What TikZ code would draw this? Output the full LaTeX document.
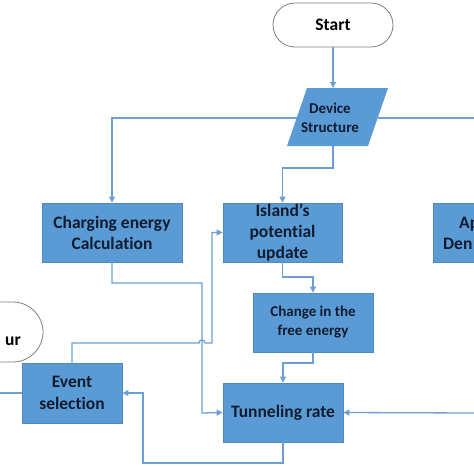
\documentclass[tikz,border=0pt]{standalone}
\usepackage{fontspec}
\setmainfont[Ligatures=NoCommon]{Carlito}
\usetikzlibrary{arrows.meta}
\definecolor{boxfill}{HTML}{5B9BD5}
\definecolor{boxline}{HTML}{4F89C2}
\definecolor{conn}{HTML}{6C9FD3}
\definecolor{txt}{HTML}{0F1C30}
\definecolor{ovalline}{HTML}{7F7F7F}
\tikzset{
  procbox/.style={rectangle, fill=boxfill, draw=boxline, line width=0.8pt, text=txt,
    font=\bfseries\fontsize{17.5}{21}\selectfont, align=center, inner sep=0pt},
  termbox/.style={rectangle, rounded corners=22pt, fill=white, draw=ovalline, line width=0.8pt,
    font=\bfseries\fontsize{17.5}{21}\selectfont, text=black, inner sep=0pt},
  wire/.style={draw=conn, line width=1.3pt},
  arr/.style={wire, -{Triangle[length=6pt,width=6pt]}},
}
\begin{document}
\begin{tikzpicture}[x=1pt,y=-1pt]
\useasboundingbox (0,0) rectangle (474,474);
\clip (0,0) rectangle (474,474);
% terminators
\node[termbox, minimum width=120pt, minimum height=44pt] (start) at (333,25) {Start};
\node[termbox, rounded corners=30pt, minimum width=140pt, minimum height=60pt] (endo) at (-27,332) {};
\node[font=\bfseries\fontsize{17.5}{21}\selectfont, text=black, inner sep=0pt, anchor=base east] (endtxt) at (21,345) {ur};
% device structure parallelogram
\coordinate (d1) at (307,88);
\coordinate (d2) at (388,88);
\coordinate (d3) at (368,146);
\coordinate (d4) at (287,146);
\fill[boxfill] (d1) -- (d2) -- (d3) -- (d4) -- cycle;
\node[text=txt, font=\bfseries\fontsize{15}{19}\selectfont, align=center, inner sep=0pt] (device) at (330,118) {Device\\Structure};
\coordinate (devL) at (297,118);
\coordinate (devR) at (378,118);
\coordinate (devB) at (333,146);
% process boxes
\node[procbox, minimum width=140pt, minimum height=59pt] (charge) at (112,232.5) {Charging energy\\Calculation};
\node[procbox, minimum width=119pt, minimum height=59pt] (island) at (282.5,232.5) {Island’s\\potential\\update};
\node[procbox, minimum width=120pt, minimum height=59pt, font=\bfseries\fontsize{15}{19}\selectfont] (change) at (313,322.5) {Change in the\\free energy};
\node[procbox, minimum width=120pt, minimum height=59pt] (tunnel) at (283,412.5) {Tunneling rate};
\node[procbox, minimum width=100pt, minimum height=60pt, font=\bfseries\fontsize{17.5}{22}\selectfont] (event) at (72,393) {Event\\selection};
\node[procbox, minimum width=80pt, minimum height=59pt] (appr) at (473,232.5) {};
\node[text=txt, font=\bfseries\fontsize{17.5}{21}\selectfont, inner sep=0pt, anchor=base west] (aptxt) at (459,228) {Ap};
\node[text=txt, font=\bfseries\fontsize{17.5}{21}\selectfont, inner sep=0pt, anchor=base west] (dentxt) at (443,249) {Den};
% connectors
\coordinate (rightA) at (474,118);
\coordinate (rightB) at (474,413);
\coordinate (leftA) at (0,393);
\draw[arr] (start.south) -- (333,88);
\draw[arr] (devL) -| (charge.north);
\draw[wire] (devR) -- (rightA);
\draw[arr] (devB) -- (333,168) -| (island.north);
\draw[arr] (charge.south) |- (202,283) -- (202,413) -- (tunnel.west);
\draw[arr] (event.north) |- (199,343) arc[start angle=180, end angle=0, radius=3pt] -- (212,343) |- (island.west);
\draw[arr] (island.south) |- (313,277) -- (change.north);
\draw[arr] (change.south) |- (283,363) -- (tunnel.north);
\draw[arr] (rightB) -- (tunnel.east);
\draw[arr] (tunnel.south) |- (143,463) |- (event.east);
\draw[wire] (event.west) -- (leftA);
\end{tikzpicture}
\end{document}
